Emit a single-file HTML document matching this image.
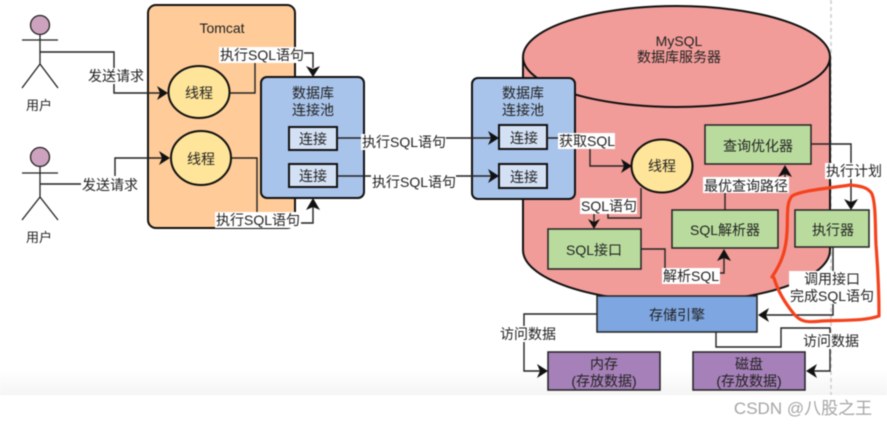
<!DOCTYPE html>
<html><head><meta charset="utf-8"><style>
html,body{margin:0;padding:0;background:#fff;width:887px;height:426px;overflow:hidden}
svg{display:block;filter:blur(0.5px)}
text{font-family:"Liberation Sans","Noto Sans CJK SC",sans-serif;font-size:14px;fill:#222;text-anchor:middle}
.b{stroke:#111;stroke-width:2;}
.l{fill:none;stroke:#222;stroke-width:1.4}
.a{fill:#111;stroke:none}
.w{fill:#fff;stroke:none}
</style></head><body>
<svg width="887" height="426" viewBox="0 0 887 426" xmlns="http://www.w3.org/2000/svg">
<defs><linearGradient id="g" x1="0" y1="0" x2="0" y2="1"><stop offset="0" stop-color="#fff"/><stop offset="1" stop-color="#f5f5f5"/></linearGradient></defs>
<rect x="0" y="370" width="887" height="25" fill="url(#g)"/>
<rect width="887" height="31" y="395" fill="#fff"/>
<line x1="831" y1="0" x2="831" y2="395" stroke="#ccc" stroke-width="1.5" stroke-dasharray="4 3"/>

<!-- Cylinder -->
<path class="b" fill="#f19c99" d="M523 57 A153.5 51 0 0 1 830 57 V250 A153.5 52 0 0 1 523 250 Z"/>
<path class="b" fill="none" d="M523 57 A153.5 50 0 0 0 830 57"/>
<text x="679" y="46">MySQL</text>
<text x="679" y="62">数据库服务器</text>

<!-- Tomcat -->
<rect x="148" y="5" width="147" height="223" rx="8" fill="#ffcc99" class="b"/>
<text x="222" y="33">Tomcat</text>

<!-- Users -->
<g fill="none" stroke="#222" stroke-width="1.3">
<circle cx="40" cy="25" r="9.5" fill="#cda2be"/>
<path d="M40 35V64M22 40H58M40 64L22 88M40 64L58 88"/>
<circle cx="40" cy="157" r="9.5" fill="#cda2be"/>
<path d="M40 167V197M22 173H58M40 197L22 220M40 197L58 220"/>
</g>
<text x="39" y="110" style="font-size:13px">用户</text>
<text x="39" y="242" style="font-size:13px">用户</text>

<!-- threads left -->
<ellipse cx="199" cy="92" rx="30.5" ry="26" fill="#ffe599" class="b"/>
<text x="199" y="98">线程</text>
<ellipse cx="201" cy="158" rx="30" ry="27" fill="#ffe599" class="b"/>
<text x="201" y="164">线程</text>

<!-- user connectors -->
<path class="l" d="M40 52H114V93H160"/>
<path class="a" d="M168 93L157 86L160 93L157 100Z"/>
<path class="l" d="M40 184H115V158H162"/>
<path class="a" d="M170 158L159 151L162 158L159 165Z"/>
<rect class="w" x="88" y="68" width="57" height="16"/>
<rect class="w" x="81" y="176" width="58" height="17"/>
<text x="116" y="81">发送请求</text>
<text x="110" y="190">发送请求</text>

<!-- thread to pool -->
<path class="l" d="M230 93H255V62"/>
<path class="l" d="M232 158H257V214"/>
<path class="l" d="M304 53H313V68"/>
<path class="a" d="M313 77L306 66L313 69L320 66Z"/>
<path class="l" d="M300 223H313V206"/>
<path class="a" d="M313 198L306 210L313 207L320 210Z"/>

<!-- Pool 1 -->
<rect x="261" y="77" width="103" height="121" rx="6" fill="#a9c4eb" class="b"/>
<text x="313" y="98">数据库</text>
<text x="313" y="115">连接池</text>
<rect x="289" y="127" width="48" height="23" fill="#d4e1f5" class="b"/>
<text x="313" y="144">连接</text>
<rect x="289" y="164" width="48" height="23" fill="#d4e1f5" class="b"/>
<text x="313" y="181">连接</text>

<rect class="w" x="219" y="47" width="85" height="16"/>
<text x="262" y="60">执行SQL语句</text>
<rect class="w" x="215" y="212" width="86" height="16"/>
<text x="258" y="225">执行SQL语句</text>

<!-- Pool 2 -->
<rect x="472" y="78" width="103" height="121" rx="6" fill="#a9c4eb" class="b"/>
<text x="523" y="98">数据库</text>
<text x="523" y="115">连接池</text>
<rect x="499" y="125" width="48" height="24" fill="#d4e1f5" class="b"/>
<text x="524" y="143">连接</text>
<rect x="499" y="164" width="48" height="24" fill="#d4e1f5" class="b"/>
<text x="524" y="182">连接</text>

<!-- Pool links -->
<path class="l" d="M337 138H492"/>
<path class="a" d="M499 138L488 131L491 138L488 145Z"/>
<path class="l" d="M337 176H492"/>
<path class="a" d="M499 176L488 169L491 176L488 183Z"/>
<rect class="w" x="361" y="134" width="85" height="16"/>
<text x="404" y="147">执行SQL语句</text>
<rect class="w" x="371" y="174" width="85" height="16"/>
<text x="414" y="187">执行SQL语句</text>

<!-- Inner connectors -->
<path class="l" d="M547 138H590V166H625"/>
<path class="a" d="M632 166L621 159L624 166L621 173Z"/>
<path class="l" d="M641 188V218H608V210"/>
<path class="l" d="M594 212V222"/>
<path class="a" d="M594 229L588 219L594 222L600 219Z"/>
<path class="l" d="M641 249H665V273H724V258"/>
<path class="a" d="M724 249L717 261L724 258L731 261Z"/>
<path class="l" d="M725 210V190"/>
<path class="a" d="M785 165L778 177L785 174L792 177Z"/>
<path class="l" d="M785 174V185"/>
<path class="l" d="M811 144H851V202"/>
<path class="a" d="M851 210L844 199L851 202L858 199Z"/>
<path class="l" d="M833 247V315H764"/>
<path class="a" d="M758 315L769 308L766 315L769 322Z"/>

<!-- Process nodes -->
<ellipse cx="662" cy="166" rx="30.5" ry="26.5" fill="#ffe599" class="b"/>
<text x="662" y="171">线程</text>
<rect x="548" y="229" width="93" height="40" fill="#b9dc9e" stroke="#222" stroke-width="1.5"/>
<text x="594" y="255">SQL接口</text>
<rect x="705" y="125" width="106" height="39" fill="#b9dc9e" stroke="#222" stroke-width="1.5"/>
<text x="758" y="151">查询优化器</text>
<rect x="672" y="210" width="106" height="38" fill="#b9dc9e" stroke="#222" stroke-width="1.5"/>
<text x="725" y="235">SQL解析器</text>
<rect x="795" y="210" width="74" height="37" fill="#b9dc9e" stroke="#222" stroke-width="1.5"/>
<text x="833" y="235">执行器</text>

<!-- Inner labels -->
<rect class="w" x="558" y="133" width="57" height="16"/>
<text x="587" y="146">获取SQL</text>
<rect class="w" x="580" y="198" width="57" height="16"/>
<text x="609" y="211">SQL语句</text>
<rect class="w" x="662" y="268" width="58" height="16"/>
<text x="691" y="281">解析SQL</text>
<rect class="w" x="703" y="177" width="86" height="16"/>
<text x="746" y="191">最优查询路径</text>
<rect class="w" x="825" y="163" width="57" height="16"/>
<text x="854" y="176">执行计划</text>
<rect class="w" x="789" y="271" width="88" height="33"/>
<text x="832" y="284">调用接口</text>
<text x="832" y="301">完成SQL语句</text>

<!-- Storage -->
<rect x="597" y="296" width="160" height="36" fill="#7ea6e0" stroke="#222" stroke-width="1.5"/>
<text x="677" y="320">存储引擎</text>
<rect x="548" y="352" width="112" height="38" fill="#a680b8" stroke="#222" stroke-width="1.5"/>
<text x="604" y="369">内存</text>
<text x="604" y="386">(存放数据)</text>
<rect x="693" y="352" width="112" height="38" fill="#a680b8" stroke="#222" stroke-width="1.5"/>
<text x="749" y="369">磁盘</text>
<text x="749" y="386">(存放数据)</text>

<path class="l" d="M597 314H524V371H540"/>
<path class="a" d="M548 371L537 364L540 371L537 378Z"/>
<path class="l" d="M716 332V347H781V328H830V371H813"/>
<path class="a" d="M806 371L817 364L814 371L817 378Z"/>
<rect class="w" x="499" y="326" width="57" height="16"/>
<text x="528" y="339">访问数据</text>
<rect class="w" x="802" y="333" width="57" height="16"/>
<text x="831" y="346">访问数据</text>

<!-- Red marker -->
<path fill="none" stroke="#f4421c" stroke-width="3.2" stroke-linejoin="round" stroke-linecap="round" d="M772 277C782 262 786 250 787 232C788 215 786 203 792 196C802 190 832 188 850 185C860 186 868 187 872 194C876 205 875 225 876 245C878 270 879 295 879 316C865 321 845 320 822 321C805 323 800 321 794 314C785 303 778 292 774 278"/>

<text x="803" y="414" style="font-size:17px;fill:#a5a5a5">CSDN @八股之王</text>
</svg>
</body></html>
